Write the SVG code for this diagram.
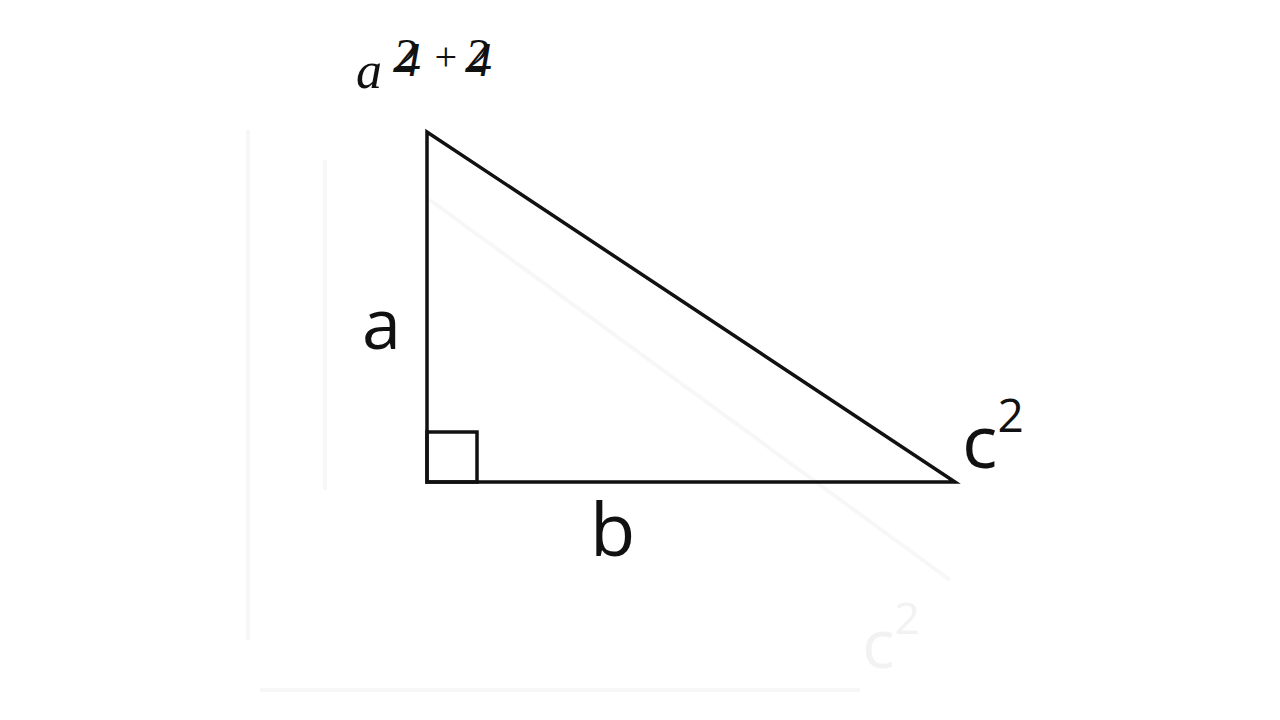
<svg xmlns="http://www.w3.org/2000/svg" width="1280" height="720" viewBox="0 0 1280 720">
<style>
.lbl{font-family:"Open Sans","Liberation Sans",sans-serif;fill:#111}
.ghost{stroke:#f7f7f7;stroke-width:4;fill:none}
.hand{font-family:"Liberation Serif",serif;font-style:italic;fill:#111}
</style>
<rect width="1280" height="720" fill="#fff"/>
<g id="ghosts">
<line class="ghost" x1="248" y1="130" x2="248" y2="640"/>
<line class="ghost" x1="325" y1="160" x2="325" y2="490"/>
<line class="ghost" x1="260" y1="690" x2="860" y2="690"/>
<line class="ghost" x1="430" y1="200" x2="950" y2="580" stroke-width="3" stroke="#f9f9f9"/>
<text x="862" y="668" font-family="Open Sans, Liberation Sans, sans-serif" font-size="68" fill="#f2f2f2">c<tspan dy="-34" font-size="44">2</tspan></text>
</g>
<g id="triangle">
<polygon points="427,132 427,482 955,482" fill="none" stroke="#111" stroke-width="3.5" stroke-linejoin="miter"/>
<rect x="427" y="432" width="50" height="50" fill="none" stroke="#111" stroke-width="3.5"/>
</g>
<g id="label-a"><text class="lbl" x="362" y="349" font-size="70">a</text></g>
<g id="label-b"><text class="lbl" x="590" y="556" font-size="74">b</text></g>
<g id="label-c2"><text class="lbl" x="962" y="468" font-size="74">c<tspan dy="-36" font-size="46">2</tspan></text></g>
<g id="label-top">
<text class="hand" x="356" y="88" font-size="52">a<tspan x="393" y="72" font-size="48">2</tspan><tspan x="397" y="76" font-size="48">4</tspan><tspan x="432" y="70" font-size="40">+</tspan><tspan x="465" y="72" font-size="48">2</tspan><tspan x="468" y="76" font-size="48">4</tspan></text>
</g>
</svg>
